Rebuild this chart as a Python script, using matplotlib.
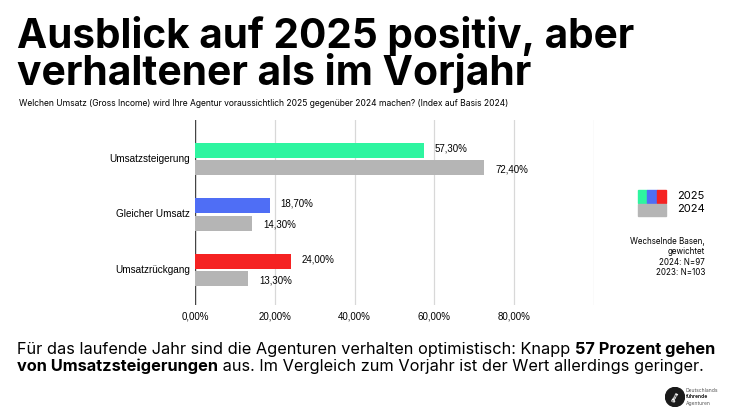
import matplotlib
matplotlib.use("Agg")
import matplotlib.pyplot as plt
from matplotlib.patches import Rectangle, Circle

categories = ["Umsatzsteigerung", "Gleicher Umsatz", "Umsatzrückgang"]
values_2025 = [57.3, 18.7, 24.0]
values_2024 = [72.4, 14.3, 13.3]
labels_2025 = ["57,30%", "18,70%", "24,00%"]
labels_2024 = ["72,40%", "14,30%", "13,30%"]
colors_2025 = ["#2ef5a0", "#4f6ef5", "#f52222"]
color_2024 = "#b5b5b5"
xticks = [0, 20, 40, 60, 80, 100]
xticklabels = ["0,00%", "20,00%", "40,00%", "60,00%", "80,00%", ""]

W, H = 740, 420
fig = plt.figure(figsize=(W/100, H/100), dpi=100)
fig.patch.set_facecolor("white")
fig.canvas.draw()
R = fig.canvas.get_renderer()

def fx(px): return px / W
def fy(py): return 1 - py / H

def fit_text(x, y, s, width_px, **kw):
    t = fig.text(fx(x), fy(y), s, fontsize=10, **kw)
    w = t.get_window_extent(R).width
    t.set_fontsize(10 * width_px / w)
    return t

# axes: x from 195 to 594 px, y from 120 to 305 px
ax = fig.add_axes([fx(195), fy(305), fx(594) - fx(195), fy(120) - fy(305)])
ax.set_xlim(0, 100)
ax.set_ylim(-0.63, 2.70)
for s in ax.spines.values():
    s.set_visible(False)
ax.set_xticks(xticks)
ax.set_xticklabels(xticklabels, fontsize=7, family="Liberation Sans")
ax.tick_params(axis="x", length=0, pad=5)
ax.set_yticks([])
ax.grid(axis="x", color="#d8d8d8", linewidth=0.9)
ax.set_axisbelow(True)
ax.axvline(0, color="#444444", linewidth=1.0)

centers = [2, 1, 0]
bh = 0.27
off = 0.158
for i, c in enumerate(centers):
    ax.barh(c + off, values_2025[i], height=bh, color=colors_2025[i], zorder=3)
    ax.barh(c - off, values_2024[i], height=bh, color=color_2024, zorder=3)
    ax.text(values_2025[i] + 2.8, c + off + 0.03, labels_2025[i], fontsize=7,
            family="Liberation Sans", va="center", ha="left")
    ax.text(values_2024[i] + 2.8, c - off - 0.03, labels_2024[i], fontsize=7,
            family="Liberation Sans", va="center", ha="left")
    ax.text(-1.2, c, categories[i], fontsize=7.2, family="Liberation Sans",
            va="center", ha="right")

# Title
fit_text(17, 48, "Ausblick auf 2025 positiv, aber", 618, fontweight="bold",
         family="Inter", va="baseline", ha="left")
fit_text(17, 85, "verhaltener als im Vorjahr", 516, fontweight="bold",
         family="Inter", va="baseline", ha="left")
fit_text(19, 103, "Welchen Umsatz (Gross Income) wird Ihre Agentur voraussichtlich 2025 gegenüber 2024 machen? (Index auf Basis 2024)",
         496, family="Inter", va="center", ha="left")

# Legend
sw = 9.3
for k, col in enumerate(colors_2025):
    fig.patches.append(Rectangle((fx(638 + k * sw), fy(203)), fx(sw), fy(190) - fy(203),
                                 transform=fig.transFigure, color=col))
fig.patches.append(Rectangle((fx(638), fy(216)), fx(28), fy(204) - fy(216),
                             transform=fig.transFigure, color=color_2024))
fig.text(fx(677), fy(196), "2025", fontsize=8, family="Inter", va="center", ha="left")
fig.text(fx(677), fy(209), "2024", fontsize=8, family="Inter", va="center", ha="left")
fig.text(fx(705), fy(237), "Wechselnde Basen,\ngewichtet\n2024: N=97\n2023: N=103",
         fontsize=5.8, family="Inter", va="top", ha="right", linespacing=1.2)

# Bottom text
t1 = fit_text(17, 354, "Für das laufende Jahr sind die Agenturen verhalten optimistisch: Knapp ",
              560, family="Inter", va="baseline", ha="left")
fs = t1.get_fontsize()
bb = t1.get_window_extent(R)
fig.text(bb.x1 / W, fy(354), "57 Prozent gehen", fontsize=fs, family="Inter",
         fontweight="bold", va="baseline", ha="left")
t3 = fig.text(fx(17), fy(371), "von Umsatzsteigerungen", fontsize=fs, family="Inter",
              fontweight="bold", va="baseline", ha="left")
bb3 = t3.get_window_extent(R)
fig.text(bb3.x1 / W, fy(371), " aus. Im Vergleich zum Vorjahr ist der Wert allerdings geringer.",
         fontsize=fs, family="Inter", va="baseline", ha="left")

# Logo
logo_ax = fig.add_axes([fx(665), fy(407), fx(20), fy(387) - fy(407)])
logo_ax.set_xlim(-1, 1); logo_ax.set_ylim(-1, 1); logo_ax.set_aspect("equal")
logo_ax.axis("off")
logo_ax.add_patch(Circle((0, 0), 0.95, color="#1a1a1a"))
logo_ax.text(0, 0, "gwa", color="white", fontsize=3.5, fontweight="bold",
             rotation=60, ha="center", va="center")
fig.text(fx(686), fy(390), "Deutschlands", fontsize=3.6, family="Inter", color="#555555", va="center")
fig.text(fx(686), fy(397), "führende", fontsize=3.6, family="Inter", fontweight="bold", color="#222222", va="center")
fig.text(fx(686), fy(404), "Agenturen", fontsize=3.6, family="Inter", color="#555555", va="center")

fig.savefig("out.png", dpi=100, facecolor="white")
